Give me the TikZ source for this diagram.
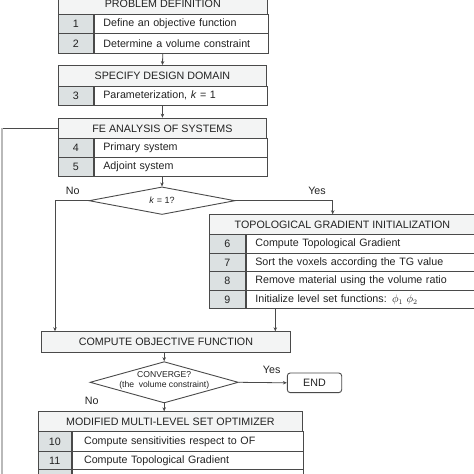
\documentclass[tikz,border=0pt]{standalone}
\usepackage{fontspec}
\setmainfont{Liberation Sans}
\usetikzlibrary{shapes.geometric,arrows.meta,calc}
\definecolor{bord}{HTML}{4A4A4A}
\definecolor{hdrfill}{HTML}{F3F4F4}
\definecolor{numfill}{HTML}{DCE1E2}
\definecolor{txtc}{HTML}{222222}
\newcommand{\trow}[9]{%
  \node[numcell, minimum width=#4, minimum height=#6] (#1n) at (#2,#3) {#7};
  \node[txtcell, inner xsep=#9, text width=#5, minimum height=#6] (#1t) at (#1n.north east) {#8};
}
\begin{document}
\begin{tikzpicture}[x=1pt,y=-1pt,
  every node/.style={text=txtc},
  cell/.style={draw=bord, line width=0.9pt, anchor=north west, inner sep=0pt, font=\fontsize{10.7}{12}\selectfont},
  hdr/.style={cell, fill=hdrfill, align=center},
  numcell/.style={cell, fill=numfill, align=center},
  txtcell/.style={cell, fill=white, align=left},
  dia/.style={diamond, draw=bord, line width=0.9pt, fill=white, inner sep=0pt},
  endbox/.style={draw=bord, line width=0.9pt, fill=white, rounded corners=3pt, font=\fontsize{10.7}{12}\selectfont},
  lbl/.style={font=\fontsize{10.7}{12}\selectfont, inner sep=0pt},
  conn/.style={draw=bord, line width=0.8pt},
  arr/.style={conn, -{Stealth[length=4pt,width=3.5pt]}}
]
\useasboundingbox (0,0) rectangle (474,474);
\clip (0,0) rectangle (474,474);
\fill[white] (0,0) rectangle (474,474);

% PROBLEM DEFINITION
\node[hdr, minimum width=208.7, minimum height=21] (pdh) at (58,-7) {PROBLEM DEFINITION};
\trow{p1}{58}{14}{35}{155.7pt}{18.7}{1}{Define an objective function}{9pt}
\trow{p2}{58}{32.7}{35}{155.7pt}{20.3}{2}{Determine a volume constraint}{9pt}

% SPECIFY DESIGN DOMAIN
\node[hdr, minimum width=208, minimum height=20.7] (sdh) at (58,65) {SPECIFY DESIGN DOMAIN};
\trow{p3}{58}{85.7}{35}{155pt}{19}{3}{Parameterization, \textit{k} = 1}{9pt}

% FE ANALYSIS
\node[hdr, minimum width=208, minimum height=20.6] (feh) at (58,117.7) {FE ANALYSIS OF SYSTEMS};
\trow{p4}{58}{138.3}{35}{155pt}{18.4}{4}{Primary system}{9pt}
\trow{p5}{58}{156.7}{35}{155pt}{19.3}{5}{Adjoint system}{9pt}

% decision k = 1
\node[dia, minimum width=146, minimum height=27.6, aspect=5.3,
      font=\fontsize{9}{10}\selectfont] (d1) at (162,200.7) {\textit{k} = 1?};

% TOPOLOGICAL GRADIENT INITIALIZATION
\node[hdr, minimum width=266, minimum height=19.7] (tgh) at (209,214.3) {TOPOLOGICAL GRADIENT INITIALIZATION};
\trow{p6}{209}{234}{36}{212pt}{18.7}{6}{Compute Topological Gradient}{9pt}
\trow{p7}{209}{252.7}{36}{212pt}{18.6}{7}{Sort the voxels according the TG value}{9pt}
\trow{p8}{209}{271.3}{36}{212pt}{18.7}{8}{Remove material using the volume ratio}{9pt}
\trow{p9}{209}{290}{36}{212pt}{18.3}{9}{Initialize level set functions: $\phi_1$ $\phi_2$}{9pt}

% COMPUTE OBJECTIVE FUNCTION
\node[hdr, minimum width=249, minimum height=21] (cof) at (41,331.3) {COMPUTE OBJECTIVE FUNCTION};

% decision converge
\node[dia, minimum width=148.3, minimum height=41.3] (d2) at (164.2,382.3) {};
\node[font=\fontsize{8.6}{10.7}\selectfont, align=center, inner sep=0pt, yshift=2pt] (d2t) at (d2.center) {CONVERGE?\\(the\ \ volume constraint)};

% END
\node[endbox, minimum width=54.4, minimum height=19.7, inner sep=0pt] (endn) at (314.5,382.8) {END};

% MODIFIED MULTI-LEVEL SET OPTIMIZER
\node[hdr, minimum width=264.6, minimum height=20] (mmh) at (37.7,411.3) {MODIFIED MULTI-LEVEL SET OPTIMIZER};
\trow{p10}{37.7}{431.3}{33.3}{207.9pt}{19.4}{10}{Compute sensitivities respect to OF}{11.7pt}
\trow{p11}{37.7}{450.7}{33.3}{207.9pt}{18.6}{11}{Compute Topological Gradient}{11.7pt}
\trow{p12}{37.7}{469.3}{33.3}{207.9pt}{19.5}{}{}{11.7pt}

% labels
\node[lbl] (lno1) at (72.7,190.7) {No};
\node[lbl] (lyes1) at (317,190.7) {Yes};
\node[lbl] (lyes2) at (271.7,369.7) {Yes};
\node[lbl] (lno2) at (91.7,401.3) {No};

% connectors
\draw[arr] (p2t.south -| pdh) -- (sdh.north);
\draw[arr] (p3t.south -| sdh) -- (feh.north);
\draw[arr] (p5t.south -| d1.north) -- (d1.north);
\draw[arr] (d1.west) -| ($(cof.north west)+(14,0)$);
\draw[arr] (d1.east) -| ($(tgh.north west)+(123.7,0)$);
\draw[arr] ($(p9n.south west)+(66.3,0)$) coordinate (t9) -- (t9 |- cof.north);
\draw[arr] (cof.south -| d2.north) -- (d2.north);
\draw[arr] (d2.east) -- (endn.west);
\draw[arr] (d2.south) -- (d2.south |- mmh.north);

% loop back
\coordinate (loopbot) at (2,480);
\draw[conn] (feh.west) -- (feh.west -| loopbot) coordinate (loopc);
\draw[conn, draw=gray!55, line width=1.5pt] (loopc) -- (loopbot);
\end{tikzpicture}
\end{document}
